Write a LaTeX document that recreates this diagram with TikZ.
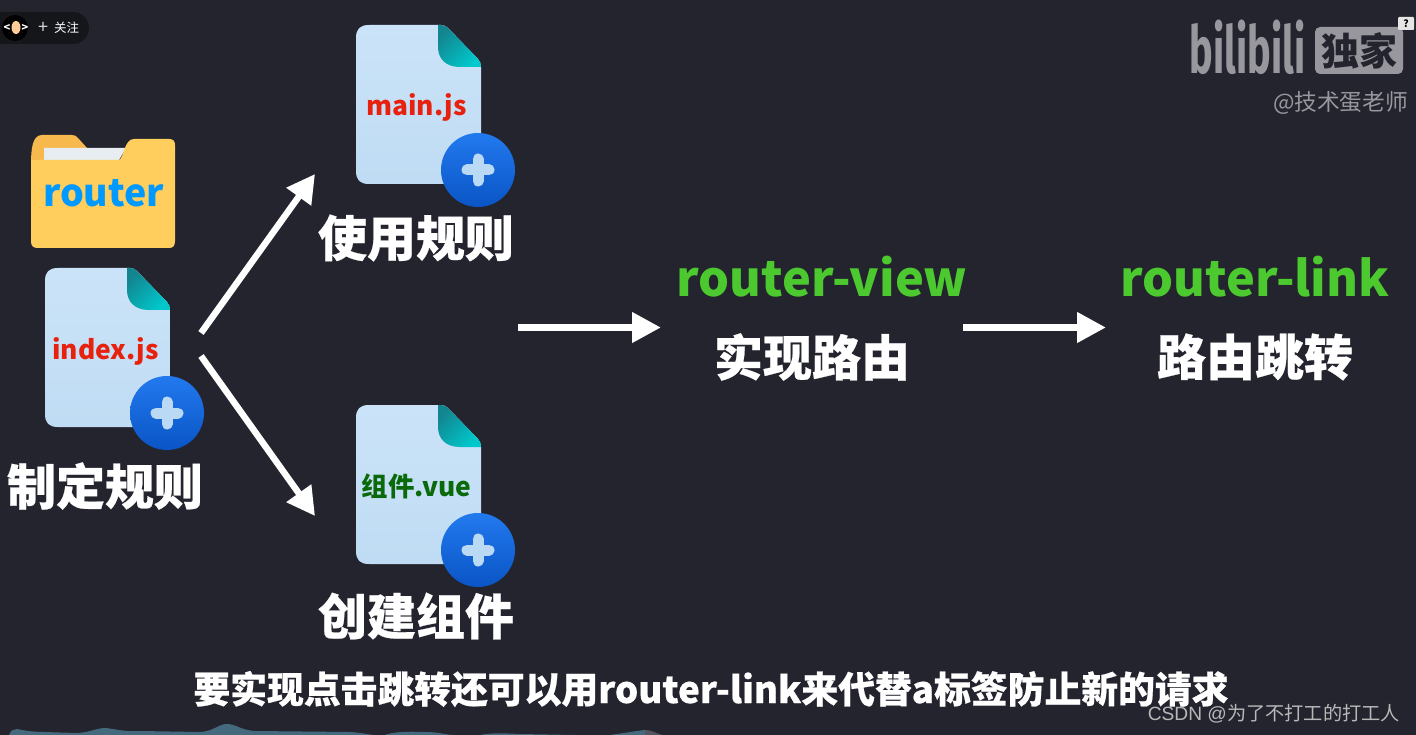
\documentclass[tikz,border=0pt]{standalone}
\usepackage{fontspec}
\setmainfont{Noto Sans CJK SC}
\newfontfamily\heavyfont{Noto Sans CJK SC}[BoldFeatures={FakeBold=0.5}]
\newfontfamily\wmfont{Liberation Sans}
\newfontfamily\logofont{Fira Sans}
\usetikzlibrary{arrows.meta}
\definecolor{bgdark}{HTML}{24242F}
\definecolor{pilldark}{HTML}{15161A}
\definecolor{folderback}{HTML}{F7B84E}
\definecolor{folderfront}{HTML}{FFCE5C}
\definecolor{folderpaper}{HTML}{E8EDF1}
\definecolor{routerblue}{HTML}{0099FF}
\definecolor{jsred}{HTML}{E8210F}
\definecolor{vuegreen}{HTML}{0A6A0A}
\definecolor{routegreen}{HTML}{4CC92E}
\definecolor{logogray}{HTML}{97979D}
\definecolor{wavecolor}{HTML}{456A7E}
\definecolor{wavegray}{HTML}{55555F}
\definecolor{filetop}{HTML}{CBE3F8}
\definecolor{filebottom}{HTML}{BFDCF4}
\definecolor{foldlight}{HTML}{00C8CC}
\definecolor{folddark}{HTML}{12858F}
\definecolor{plustop}{HTML}{2279EE}
\definecolor{plusbottom}{HTML}{0A55C6}
\definecolor{pluscross}{HTML}{BAD9F5}
\tikzset{
	flowarrow/.style={line width=7.5pt,white,-{Triangle[length=29pt,width=29pt]}},
	slantarrow/.style={line width=6.5pt,white,-{Triangle[length=28pt,width=29pt]}},
	caption/.style={text=white,font=\heavyfont\bfseries\fontsize{49}{49}\selectfont,inner sep=0pt},
	routename/.style={text=routegreen,font=\bfseries\fontsize{48.7}{49}\selectfont,inner sep=0pt},
	filename/.style={font=\bfseries\fontsize{26.4}{27}\selectfont,inner sep=0pt},
	docfile/.pic={
		\shade[top color=filetop,bottom color=filebottom]
			(0,13) .. controls (0,4) and (4,0) .. (13,0) -- (85,0) .. controls (88,0) and (90,1) .. (92,3)
			-- (122,34) .. controls (124,36) and (125,39) .. (125,42) -- (125,146) .. controls (125,155) and (121,159) .. (112,159)
			-- (13,159) .. controls (4,159) and (0,155) .. (0,146) -- cycle;
		\shade[left color=folddark,right color=foldlight,shading angle=45]
			(82,0) -- (85,0) .. controls (88,0) and (90,1) .. (92,3) -- (122,34) .. controls (124,36) and (125,39) .. (125,42)
			-- (104,42) .. controls (90,42) and (82,34) .. (82,22) -- cycle;
		\shade[top color=plustop,bottom color=plusbottom] (122,145) circle (37);
		\draw[line width=11pt,line cap=round,pluscross] (111,145) -- (133,145) (122,134) -- (122,156);
	}
}
\begin{document}
\begin{tikzpicture}[x=1pt,y=-1pt]
	\fill[bgdark] (0,0) rectangle (1416,735);
	\useasboundingbox (0,0) rectangle (1416,735);
	% top left badge
	\fill[pilldark,rounded corners=16pt] (-16,12) rectangle (89,44);
	\fill[black] (15,28) circle (13);
	\fill[orange!40!white] (16,27.5) ellipse (4.5 and 6.5);
	\node[white,inner sep=0pt,font=\bfseries\fontsize{11}{11}\selectfont](badgeleft) at (7,27.5){<};
	\node[white,inner sep=0pt,font=\bfseries\fontsize{11}{11}\selectfont](badgeright) at (25,27.5){>};
	\node[white!85!black,inner sep=0pt,font=\fontsize{18}{18}\selectfont](badgeplus) at (43,27.5){+};
	\node[white,inner sep=0pt,font=\fontsize{12.5}{13}\selectfont](badgetext) at (66.5,28){关注};
	% logo top right
	\node[logogray,inner sep=0pt,font=\logofont\bfseries\fontsize{66}{66}\selectfont](logo) at (1247.5,47){\scalebox{0.6}[1]{bilibili}};
	\fill[logogray,rounded corners=5pt] (1315,27) rectangle (1403,74);
	\node[bgdark,inner sep=0pt,font=\bfseries\fontsize{38}{38}\selectfont](logobox) at (1359,50.5){独家};
	\fill[white!90!black,rounded corners=1pt] (1398,17) rectangle (1414,30);
	\node[black,inner sep=0pt,font=\bfseries\fontsize{10}{10}\selectfont](help) at (1406,23.5){?};
	\node[logogray,inner sep=0pt,font=\fontsize{22.7}{23}\selectfont](author) at (1340.5,102.5){@技术蛋老师};
	% folder
	\fill[folderback] (31,165) .. controls (31,150) and (32,135) .. (42,135) -- (72,135) .. controls (75,135) and (76,136) .. (78,138) -- (87,148) -- (87,165) -- cycle;
	\fill[folderpaper] (44,148) -- (126,148) -- (119,160) -- (44,160) -- cycle;
	\fill[folderfront] (31,160) -- (119,160) .. controls (124,158) and (124,139) .. (134,139) -- (169,139)
		.. controls (173,139) and (175,141) .. (175,145) -- (175,241) .. controls (175,246) and (173,248) .. (169,248)
		-- (38,248) .. controls (33,248) and (31,246) .. (31,241) -- cycle;
	\node[text=routerblue,inner sep=0pt,font=\bfseries\fontsize{37.5}{38}\selectfont](router) at (103.5,193){router};
	% files
	\pic at (45,268) {docfile};
	\pic at (356,25) {docfile};
	\pic at (356,405) {docfile};
	\node[filename,text=jsred](index) at (105.5,351){index.js};
	\node[filename,text=jsred](main) at (416.5,107.5){main.js};
	\node[filename,text=vuegreen](comp) at (416.5,486){组件.vue};
	% captions
	\node[caption](rule) at (105,486){制定规则};
	\node[caption](use) at (416,238){使用规则};
	\node[caption](create) at (416,616){创建组件};
	\node[routename](view) at (822,277){router-view};
	\node[routename](link) at (1255,277){router-link};
	\node[caption](impl) at (812,357){实现路由};
	\node[caption](jump) at (1255,357){路由跳转};
	% arrows
	\coordinate (a) at (201,333);
	\coordinate (b) at (315,174);
	\coordinate (c) at (201,356);
	\coordinate (d) at (315,516);
	\coordinate (e) at (518,327.5);
	\coordinate (f) at (661,327.5);
	\coordinate (g) at (963,327.5);
	\coordinate (h) at (1106,327.5);
	\draw[slantarrow] (a)--(b);
	\draw[slantarrow] (c)--(d);
	\draw[flowarrow] (e)--(f);
	\draw[flowarrow] (g)--(h);
	% bottom
	\node[text=white,inner sep=0pt,font=\heavyfont\bfseries\fontsize{36.8}{37}\selectfont](sub) at (711,689){要实现点击跳转还可以用router-link来代替a标签防止新的请求};
	\fill[wavecolor] (9,735) .. controls (11,730) and (14,729) .. (17,729) .. controls (22,730) and (30,732) .. (45,732)
		-- (75,733) .. controls (90,733) and (95,728) .. (106,728) .. controls (115,729) and (125,732) .. (140,731) -- (200,732)
		.. controls (215,731) and (218,724) .. (227,724) .. controls (236,724) and (240,730) .. (255,731) -- (350,732)
		.. controls (365,733) and (370,735) .. (375,735) -- cycle;
	\fill[wavecolor] (385,735) .. controls (390,733) and (400,731) .. (425,732) .. controls (440,732) and (445,735) .. (455,735)
		-- (480,735) .. controls (490,733) and (500,733) .. (520,734) -- (575,735) -- cycle;
	\fill[wavecolor] (610,735) .. controls (625,733) and (635,731) .. (645,730) -- (645,735) -- cycle;
	\fill[wavegray] (645,735) -- (645,730) .. controls (652,730) and (655,733) .. (662,735) -- cycle;
	\node[white!72!black,inner sep=0pt,font=\fontsize{19.2}{20}\selectfont,anchor=east](csdn) at (1400,714){{\wmfont CSDN @}为了不打工的打工人};
\end{tikzpicture}
\end{document}
